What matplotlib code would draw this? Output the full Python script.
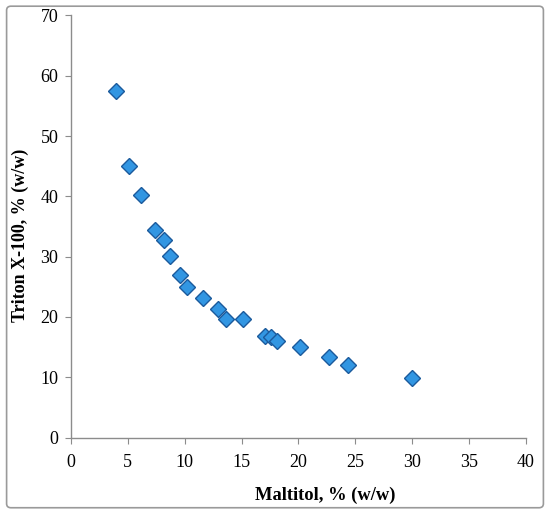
import matplotlib
matplotlib.use('Agg')
import matplotlib.pyplot as plt
from matplotlib.patches import FancyBboxPatch

# data
maltitol = [4.0, 5.1, 6.2, 7.4, 8.2, 8.7, 9.6, 10.2, 11.6, 12.9, 13.6, 15.1,
            17.1, 17.6, 18.1, 20.1, 22.7, 24.4, 30.0]
triton = [57.5, 45.0, 40.2, 34.4, 32.8, 30.1, 27.0, 24.9, 23.1, 21.4, 19.7, 19.7,
          16.9, 16.6, 16.0, 15.0, 13.3, 12.1, 9.9]

xticks = [0, 5, 10, 15, 20, 25, 30, 35, 40]
yticks = [0, 10, 20, 30, 40, 50, 60, 70]

plt.rcParams['font.family'] = ['Liberation Serif', 'DejaVu Serif']

fig = plt.figure(figsize=(5.5, 5.16), dpi=100)
ax = fig.add_axes([0.129, 0.152, 0.827, 0.818])

# rounded frame around the whole chart
frame = FancyBboxPatch((0.012, 0.016), 0.976, 0.972, boxstyle='round,pad=0,rounding_size=0.008',
                       transform=fig.transFigure, fill=False, edgecolor='#9a9a9a', linewidth=1.2)
fig.patches.append(frame)

ax.plot(maltitol, triton, linestyle='none', marker='D', markersize=8,
        markerfacecolor='#3296e2', markeredgecolor='#1b5a9c', markeredgewidth=1.0)

ax.set_xlim(0, 40)
ax.set_ylim(0, 70)
ax.set_xticks(xticks)
ax.set_yticks(yticks)

for s in ['top', 'right']:
    ax.spines[s].set_visible(False)
for s in ['left', 'bottom']:
    ax.spines[s].set_color('#8c8c8c')
    ax.spines[s].set_linewidth(1.0)
ax.tick_params(direction='out', length=4, color='#8c8c8c', labelsize=13)
ax.tick_params(axis='x', pad=8)
ax.tick_params(axis='y', pad=5)

ax.set_xlabel('Maltitol, % (w/w)', fontsize=13.3, fontweight='bold')
ax.set_ylabel('Triton X-100, % (w/w)', fontsize=13, fontweight='bold')
# labels sit a little off-centre in the original
ax.xaxis.set_label_coords(0.558, -0.117)
ax.yaxis.set_label_coords(-0.093, 0.48)

fig.savefig('out.png', dpi=100)
